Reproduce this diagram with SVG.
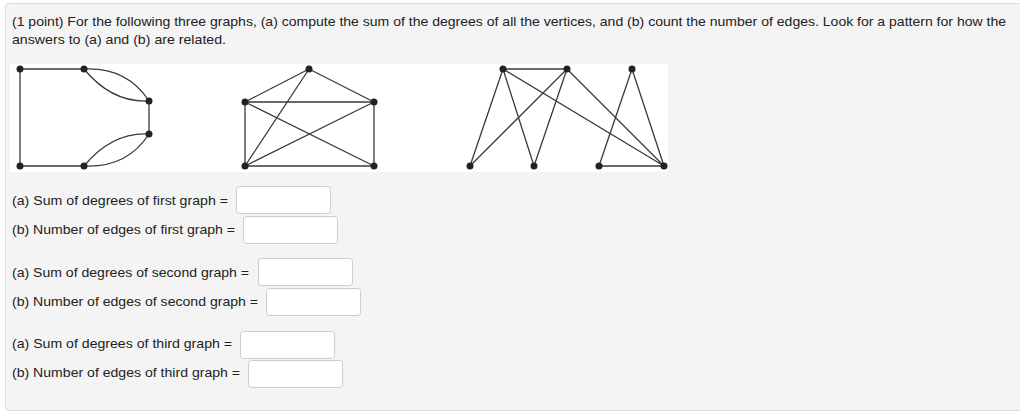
<svg xmlns="http://www.w3.org/2000/svg" width="1020" height="416" viewBox="0 0 1020 416">
<style>
.t{font-family:"Liberation Sans",Arial,sans-serif;font-size:13px;fill:#222}
.e{stroke:#3a3a3a;stroke-width:1.3;fill:none}
.n{fill:#222}
.box{fill:#fff;stroke:#ccc;stroke-width:1}
</style>
<rect x="0" y="0" width="1020" height="416" fill="#fff"/>
<rect x="5.5" y="3.5" width="1030" height="407" rx="3" fill="#f4f4f4" stroke="#ddd"/>
<text class="t" x="12" y="26" textLength="994" lengthAdjust="spacingAndGlyphs">(1 point) For the following three graphs, (a) compute the sum of the degrees of all the vertices, and (b) count the number of edges. Look for a pattern for how the</text>
<text class="t" x="12" y="44" textLength="214" lengthAdjust="spacingAndGlyphs">answers to (a) and (b) are related.</text>
<rect x="10" y="64" width="658" height="108" fill="#fff"/>
<g id="connectors">
<path class="e" d="M20,69H84M20,69V166M20,166H84M149,101V134M84,69Q127,67 149,101M84,69Q112,103 149,101M84,166Q127,168 149,134M84,166Q112,132 149,134"/>
<path class="e" d="M309,69L245,102M309,69L374,102M309,69L245,166M245,102H374M245,102V166M374,102V166M245,166H374M245,102L374,166M374,102L245,166"/>
<path class="e" d="M503,69H567M503,69L470,166M503,69L534,166M503,69L664,166M567,69L470,166M567,69L534,166M567,69L664,166M632,69L599,166M632,69L664,166M599,166H664"/>
</g>
<g id="graph1" class="n"><circle cx="20" cy="69" r="3.5"/><circle cx="84" cy="69" r="3.5"/><circle cx="149" cy="101" r="3.5"/><circle cx="149" cy="134" r="3.5"/><circle cx="20" cy="166" r="3.5"/><circle cx="84" cy="166" r="3.5"/></g>
<g id="graph2" class="n"><circle cx="309" cy="69" r="3.5"/><circle cx="245" cy="102" r="3.5"/><circle cx="374" cy="102" r="3.5"/><circle cx="245" cy="166" r="3.5"/><circle cx="374" cy="166" r="3.5"/></g>
<g id="graph3" class="n"><circle cx="503" cy="69" r="3.5"/><circle cx="567" cy="69" r="3.5"/><circle cx="632" cy="69" r="3.5"/><circle cx="470" cy="166" r="3.5"/><circle cx="534" cy="166" r="3.5"/><circle cx="599" cy="166" r="3.5"/><circle cx="664" cy="166" r="3.5"/></g>
<g id="q1"><text class="t" x="12" y="205" textLength="216" lengthAdjust="spacingAndGlyphs">(a) Sum of degrees of first graph =</text><rect class="box" x="236.5" y="186.5" width="94" height="27" rx="3"/></g>
<g id="q2"><text class="t" x="12" y="234" textLength="223" lengthAdjust="spacingAndGlyphs">(b) Number of edges of first graph =</text><rect class="box" x="243.5" y="216.5" width="94" height="27" rx="3"/></g>
<g id="q3"><text class="t" x="12" y="277" textLength="237" lengthAdjust="spacingAndGlyphs">(a) Sum of degrees of second graph =</text><rect class="box" x="258.5" y="258.5" width="94" height="27" rx="3"/></g>
<g id="q4"><text class="t" x="12" y="306" textLength="246" lengthAdjust="spacingAndGlyphs">(b) Number of edges of second graph =</text><rect class="box" x="266.5" y="288.5" width="94" height="27" rx="3"/></g>
<g id="q5"><text class="t" x="12" y="348" textLength="220" lengthAdjust="spacingAndGlyphs">(a) Sum of degrees of third graph =</text><rect class="box" x="240.5" y="331.5" width="94" height="27" rx="3"/></g>
<g id="q6"><text class="t" x="12" y="377" textLength="228" lengthAdjust="spacingAndGlyphs">(b) Number of edges of third graph =</text><rect class="box" x="248.5" y="360.5" width="94" height="27" rx="3"/></g>
</svg>
